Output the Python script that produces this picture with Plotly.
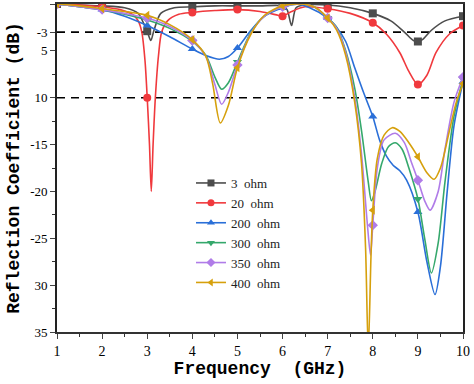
import plotly.graph_objects as go

names = ["3  ohm", "20  ohm", "200  ohm", "300  ohm", "350  ohm", "400  ohm"]
colors = ["#4d4d4d", "#f0393d", "#2a6fd8", "#35a86c", "#b07ce8", "#d6a00c"]
symbols = ["square", "circle", "triangle-up", "triangle-down", "diamond", "triangle-left"]

f_3 = [1, 1.5, 2, 2.5, 2.8, 2.95, 3.0, 3.08, 3.15, 3.3, 3.6, 4, 4.5, 5, 5.5, 6, 6.1, 6.2, 6.3, 6.5, 7, 7.5, 8, 8.4, 8.7, 8.9, 9.0, 9.1, 9.3, 9.6, 10]
v_3 = [0, -0.1, -0.2, -0.4, -1.0, -2.4, -2.9, -3.9, -2.8, -1.0, -0.4, -0.3, -0.2, -0.2, -0.2, -0.2, -0.6, -2.3, -0.4, -0.1, -0.1, -0.4, -1.0, -1.8, -3.0, -3.9, -4.0, -3.8, -2.8, -1.8, -1.3]

f_20 = [1, 1.5, 2, 2.4, 2.7, 2.8, 2.88, 2.95, 3.0, 3.05, 3.09, 3.13, 3.18, 3.25, 3.32, 3.45, 3.7, 4, 4.5, 5, 5.5, 5.9, 6, 6.2, 6.5, 7, 7.5, 8, 8.3, 8.6, 8.8, 9.0, 9.2, 9.4, 9.7, 10]
v_20 = [0, -0.1, -0.3, -0.6, -1.2, -1.8, -3.0, -6.0, -10, -15, -20, -15, -10, -5.5, -3.0, -1.8, -1.1, -0.9, -0.7, -0.6, -0.8, -1.2, -1.3, -0.8, -0.3, -0.5, -1.0, -2.0, -3.2, -5.2, -7.2, -8.6, -7.6, -5.2, -3.2, -2.3]

f_200 = [1, 1.5, 2, 2.5, 3, 3.5, 4, 4.3, 4.6, 4.8, 5, 5.3, 5.6, 6, 6.3, 6.6, 7, 7.2, 7.4, 7.6, 7.8, 8, 8.15, 8.3, 8.45, 8.6, 8.75, 9, 9.2, 9.38, 9.5, 9.65, 9.8, 10]
v_200 = [0, -0.3, -0.6, -1.3, -2.3, -3.5, -4.8, -5.5, -5.9, -5.6, -4.7, -2.8, -1.3, -0.4, 0, -0.4, -1.5, -2.5, -4.0, -6.8, -9.5, -12.0, -14.5, -16.2, -17.2, -17.8, -18.8, -22.2, -27.5, -31.0, -28.0, -20.0, -13.0, -8.3]

f_300 = [1, 1.5, 2, 2.5, 3, 3.5, 4, 4.3, 4.5, 4.65, 4.8, 5, 5.3, 5.6, 6, 6.4, 6.7, 7, 7.2, 7.4, 7.6, 7.75, 7.9, 7.97, 8.05, 8.2, 8.35, 8.5, 8.65, 8.8, 9, 9.15, 9.3, 9.45, 9.6, 9.8, 10]
v_300 = [0, -0.3, -0.6, -1.1, -1.7, -2.6, -4.0, -5.5, -7.8, -9.1, -8.4, -6.2, -3.0, -1.3, -0.3, 0, -0.3, -1.5, -2.5, -5.0, -9.0, -13.5, -19.0, -21.0, -20.0, -17.0, -15.2, -14.8, -15.5, -17.5, -20.8, -25.0, -28.7, -25.5, -19.0, -12.0, -8.0]

f_350 = [1, 1.5, 2, 2.5, 3, 3.5, 4, 4.3, 4.5, 4.65, 4.8, 5, 5.3, 5.6, 6, 6.4, 6.7, 7, 7.2, 7.4, 7.6, 7.75, 7.88, 7.95, 8.0, 8.1, 8.25, 8.5, 8.7, 8.85, 9, 9.15, 9.27, 9.45, 9.6, 9.8, 10]
v_350 = [0, -0.3, -0.6, -1.0, -1.5, -2.4, -3.9, -5.6, -8.6, -10.7, -9.4, -6.5, -3.1, -1.3, -0.3, 0, -0.3, -1.5, -2.6, -5.2, -10.0, -16.0, -23.5, -26.8, -23.6, -17.5, -14.5, -13.8, -14.8, -16.8, -18.8, -21.0, -22.0, -20.0, -15.5, -10.5, -7.8]

f_400 = [1, 1.5, 2, 2.5, 3, 3.5, 4, 4.3, 4.45, 4.62, 4.8, 5, 5.3, 5.6, 6, 6.4, 6.7, 7, 7.2, 7.4, 7.6, 7.75, 7.84, 7.9, 7.96, 8.0, 8.1, 8.25, 8.43, 8.6, 8.8, 9, 9.2, 9.36, 9.5, 9.7, 9.85, 10]
v_400 = [0, -0.2, -0.5, -0.8, -1.2, -2.2, -3.8, -5.6, -8.5, -12.7, -10.8, -6.8, -3.2, -1.2, -0.2, 0, -0.3, -1.5, -2.8, -5.5, -10.5, -17.0, -26.0, -37.0, -27.0, -22.0, -16.5, -14.0, -13.2, -13.6, -14.8, -16.3, -18.0, -18.7, -17.5, -13.5, -10.5, -8.5]

freqs = [f_3, f_20, f_200, f_300, f_350, f_400]
vals = [v_3, v_20, v_200, v_300, v_350, v_400]

ref_levels = [-3, -10]

y_tickvals = [0, -3, -5, -10, -15, -20, -25, -30, -35]
y_ticktext = ["0", "-3", "5", "10", "-15", "-20", "-25", "30", "35"]
x_tickvals = [1, 2, 3, 4, 5, 6, 7, 8, 9, 10]

fig = go.Figure()

for lv in ref_levels:
    fig.add_trace(go.Scatter(x=[1, 10], y=[lv, lv], mode="lines",
                             line=dict(color="black", width=1.6, dash="8px,6px"),
                             showlegend=False, hoverinfo="skip"))

for name, c, s, fx, vy in zip(names, colors, symbols, freqs, vals):
    fig.add_trace(go.Scatter(x=fx, y=vy, mode="lines", line=dict(color=c, width=1.6, shape="spline", smoothing=0.8),
                             showlegend=False, legendgroup=name))
    mx = [a for a in fx if float(a).is_integer()]
    my = [b for a, b in zip(fx, vy) if float(a).is_integer()]
    fig.add_trace(go.Scatter(x=mx, y=my, mode="markers", marker=dict(color=c, symbol=s, size=8),
                             showlegend=False, legendgroup=name))
    fig.add_trace(go.Scatter(x=[None], y=[None], mode="lines+markers", name=name,
                             line=dict(color=c, width=1.6), marker=dict(color=c, symbol=s, size=7),
                             legendgroup=name))

fig.update_layout(
    width=474, height=384,
    margin=dict(l=57, r=11, t=4, b=52),
    plot_bgcolor="white", paper_bgcolor="white",
    font=dict(family="Liberation Serif", color="black", size=13),
    legend=dict(x=0.33, y=0.50, xanchor="left", yanchor="top", bgcolor="rgba(0,0,0,0)",
                font=dict(family="Liberation Serif", size=13, color="#222"),
                tracegroupgap=0, itemwidth=30),
    xaxis=dict(range=[1, 10], tickvals=x_tickvals, ticks="outside", ticklen=5, tickwidth=1.2,
               showline=True, linecolor="#333", linewidth=1.5, mirror=True, showgrid=False, zeroline=False,
               automargin=False,
               tickfont=dict(family="Liberation Serif", size=14),
               minor=dict(tickvals=[1.5, 2.5, 3.5, 4.5, 5.5, 6.5, 7.5, 8.5, 9.5], ticks="outside", ticklen=3, tickcolor="#333"),
               title=dict(text="Frequency  (GHz)", font=dict(family="Liberation Mono", size=18, weight="bold"), standoff=4)),
    yaxis=dict(range=[-35, 0], tickvals=y_tickvals, ticktext=y_ticktext, ticks="outside", ticklen=5, tickwidth=1.2,
               showline=True, linecolor="#222", linewidth=1.8, mirror=True, showgrid=False, zeroline=False,
               automargin=False,
               tickfont=dict(family="Liberation Serif", size=13),
               minor=dict(tickvals=[-7.5, -12.5, -17.5, -22.5, -27.5, -32.5], ticks="outside", ticklen=3, tickcolor="#333"),
               title=dict(text="Reflection Coefficient (dB)", font=dict(family="Liberation Mono", size=18, weight="bold"), standoff=6)),
)

fig.write_html("out.html", config={"displayModeBar": False},
               post_script="document.body.style.margin='0';document.body.style.padding='0';")
